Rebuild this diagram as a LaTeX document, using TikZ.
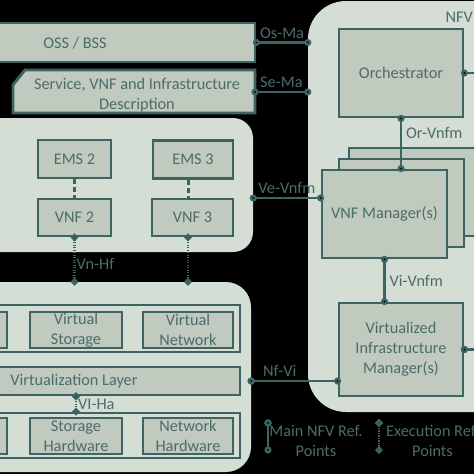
\documentclass[tikz,border=0pt]{standalone}
\usepackage{fontspec}
\setmainfont{Carlito}
\usetikzlibrary{arrows.meta}
\definecolor{panelc}{RGB}{213,222,212}
\definecolor{boxc}{RGB}{193,202,190}
\definecolor{edgec}{RGB}{61,100,98}
\definecolor{textc}{RGB}{76,108,106}
\begin{document}
\begin{tikzpicture}[x=1pt,y=-1pt,every node/.style={font=\fontsize{16.3}{19.8}\selectfont,text=textc}]
	\tikzstyle{panel} = [rectangle,fill=panelc,inner sep=0pt]
	\tikzstyle{block} = [rectangle,draw=edgec,fill=boxc,line width=2.8pt,inner sep=0pt,align=center]
	\tikzstyle{frame} = [rectangle,draw=edgec,fill=panelc,line width=2.8pt,inner sep=0pt]
	\tikzstyle{lbl} = [inner sep=1pt,align=center]
	\tikzstyle{mainref} = [draw=edgec,line width=2.4pt,{Circle[length=7pt]}-{Circle[length=7pt]},shorten <=-3.5pt,shorten >=-3.5pt]
	\tikzstyle{mainstub} = [draw=edgec,line width=2.4pt,{Circle[length=7pt]}-,shorten <=-3.5pt]
	\tikzstyle{execref} = [draw=edgec,line width=2.4pt,dash pattern=on 1.2pt off 1.3pt,{Diamond[length=8pt,width=8pt]}-{Diamond[length=8pt,width=8pt]},shorten <=-4pt,shorten >=-4pt]
	\tikzstyle{vnfc} = [draw=edgec,line width=2.4pt,dash pattern=on 5pt off 3pt]
	\useasboundingbox (0,0) rectangle (474,474);
	\fill[black] (0,0) rectangle (474,474);
	\clip (0,0) rectangle (474,474);
	% panels
	\node[panel,rounded corners=38pt,minimum width=220pt,minimum height=411pt](mano)at(418,206.5){};
	\node[panel,rounded corners=20pt,minimum width=293pt,minimum height=134pt](vnfpanel)at(106.5,185){};
	\node[panel,rounded corners=25pt,minimum width=291pt,minimum height=190pt](nfvi)at(105.5,377){};
	\node[anchor=west](nfvT)at(442,17){NFV};
	% OSS/BSS and descriptions
	\node[block,minimum width=265pt,minimum height=39pt](oss)at(122.5,42.5){};
	\node[lbl](ossT)at(75,43){OSS / BSS};
	\draw[draw=edgec,fill=boxc,line width=2.8pt] (255,70) -- (25,70) -- (13,85) -- (13,113) -- (255,113) -- cycle;
	\coordinate (sema) at (255,92);
	\node[lbl](svc)at(137,95){Service, VNF and Infrastructure\\Description};
	% MANO
	\node[block,minimum width=124pt,minimum height=88pt](orch)at(401,73){Orchestrator};
	\node[block,minimum width=135pt,minimum height=88pt](vnfmC)at(416.5,192){};
	\node[block,minimum width=125pt,minimum height=88pt](vnfmB)at(401.5,203){};
	\node[block,minimum width=125pt,minimum height=88pt](vnfmA)at(384.5,214){VNF Manager(s)};
	\node[block,minimum width=124pt,minimum height=93pt](vim)at(401,349.5){Virtualized\\Infrastructure\\Manager(s)};
	% VNFs
	\node[block,minimum width=73pt,minimum height=38pt](ems2)at(74.5,159){EMS 2};
	\node[block,minimum width=80pt,minimum height=38pt](ems3)at(193,159.5){EMS 3};
	\node[block,minimum width=73pt,minimum height=37pt](vnf2)at(74.5,217.5){VNF 2};
	\node[block,minimum width=81pt,minimum height=37pt](vnf3)at(192.5,217.5){VNF 3};
	% NFVI
	\node[frame,minimum width=250pt,minimum height=47pt](vres)at(115,328.5){};
	\node[block,minimum width=92pt,minimum height=36pt](vcomp)at(-39,330){};
	\node[block,minimum width=92pt,minimum height=36pt](vstor)at(76,330){Virtual\\Storage};
	\node[block,minimum width=90pt,minimum height=36pt](vnet)at(188,330){Virtual\\Network};
	\node[block,minimum width=250pt,minimum height=28pt](vlayer)at(115,381){};
	\node[lbl](vlayerT)at(74,381){Virtualization Layer};
	\node[frame,minimum width=250pt,minimum height=45pt](hw)at(115,435.5){};
	\node[block,minimum width=92pt,minimum height=36pt](hcomp)at(-39,436){};
	\node[block,minimum width=92pt,minimum height=36pt](hstor)at(76,436){Storage\\Hardware};
	\node[block,minimum width=90pt,minimum height=36pt](hnet)at(188,436){Network\\Hardware};
	% reference points
	\coordinate (ve) at ([yshift=16pt]vnfmA.west);
	\coordinate (nf) at ([yshift=-31.5pt]vim.west);
	\coordinate (orchR) at (490,73);
	\coordinate (vimR) at (490,349.5);
	\path[mainref] (oss.east) edge node[lbl,above=2pt](lbOsMa){Os-Ma} (oss.east -| mano.west)
	(sema) edge node[lbl,above=2pt](lbSeMa){Se-Ma} (sema -| mano.west)
	(orch.south) edge node[lbl,right=3pt,pos=0.3](lbOrVnfm){Or-Vnfm} (orch.south |- vnfmA.north)
	(ve -| vnfpanel.east) edge node[lbl,above=2pt](lbVeVnfm){Ve-Vnfm} (ve)
	(vnfmA.south) edge node[lbl,right=3pt](lbViVnfm){Vi-Vnfm} (vnfmA.south |- vim.north)
	(nf -| nfvi.east) edge node[lbl,above=2pt,pos=0.33](lbNfVi){Nf-Vi} (nf);
	\path[mainstub] (orch.east) edge (orchR)
	(vim.east) edge (vimR);
	\coordinate (e3) at ([xshift=-4.5pt]ems3.south);
	\coordinate (v3) at ([xshift=-4.5pt]vnf3.south);
	\path[vnfc] (ems2.south) edge (vnf2.north)
	(e3) edge (e3 |- vnf3.north);
	\path[execref] (vnf2.south) edge node[lbl,right,pos=0.6](lbVnHf){Vn-Hf} (vnf2.south |- nfvi.north)
	(v3) edge (v3 |- nfvi.north)
	(vlayer.south -| vstor.south) edge node[lbl,right](lbViHa){VI-Ha} (hw.north -| vstor.south);
	% legend
	\coordinate (lgMa) at (268,423);
	\coordinate (lgMb) at (268,450);
	\coordinate (lgEa) at (379,423);
	\coordinate (lgEb) at (379,450);
	\path[mainref] (lgMa) edge (lgMb);
	\path[execref] (lgEa) edge (lgEb);
	\node[lbl](lgMT)at(316,441){Main NFV Ref.\\Points};
	\node[lbl](lgET)at(432.5,441){Execution Ref.\\Points};
\end{tikzpicture}
\end{document}
